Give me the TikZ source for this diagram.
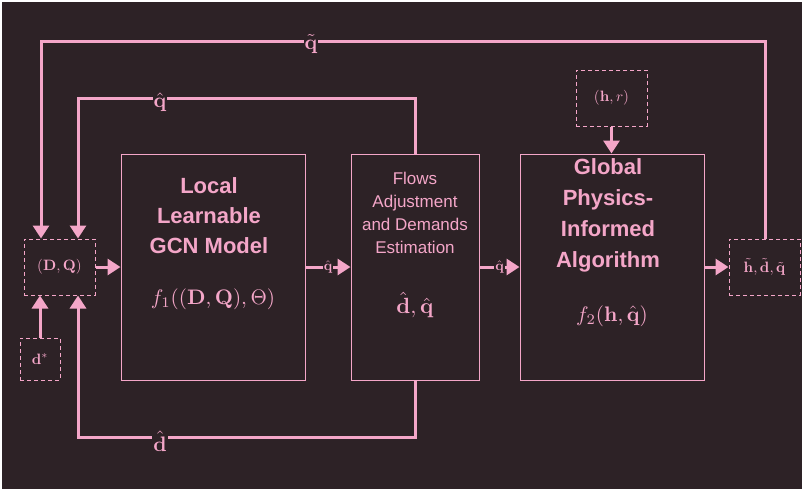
\documentclass[tikz,border=0pt]{standalone}
\usepackage{amsmath}
\usepackage{graphicx}
\usepackage[no-math]{fontspec}
\setmainfont{Liberation Sans}
\usetikzlibrary{arrows.meta}
\definecolor{bg}{HTML}{2D2226}
\definecolor{pk}{HTML}{F4A6C8}
\newcommand{\sm}[2]{\scalebox{#1}{$#2$}}
\begin{document}
\begin{tikzpicture}[x=1pt,y=-1pt,
 box/.style={draw=pk,line width=1pt},
 dbox/.style={draw=pk,line width=1pt,dash pattern=on 4pt off 3pt},
 ar/.style={draw=pk,line width=3pt,-{Triangle[length=13pt,width=16pt]}},
 lab/.style={text=pk,fill=bg,inner sep=1pt},
 txt/.style={text=pk,align=center}]
\fill[white] (0,0) rectangle (804,491);
\fill[bg] (2,2) rectangle (802,489);
\useasboundingbox (0,0) rectangle (804,491);
\node[dbox,minimum width=71pt,minimum height=56pt] (dq) at (59.5,267) {};
\node[txt] at (dq) {\sm{1.5}{(\mathbf{D},\mathbf{Q})}};
\node[dbox,minimum width=40pt,minimum height=42pt] (ds) at (40,359) {};
\node[txt] at (ds) {\sm{1.5}{\mathbf{d}^{*}}};
\node[box,minimum width=184pt,minimum height=226pt] (loc) at (213,267) {};
\node[box,minimum width=128pt,minimum height=226pt] (fl) at (415,267) {};
\node[box,minimum width=184pt,minimum height=226pt] (gl) at (612,267) {};
\node[dbox,minimum width=71pt,minimum height=56pt] (hr) at (611.5,98) {};
\node[txt] at (hr) {\sm{1.5}{(\mathbf{h},r)}};
\node[dbox,minimum width=71pt,minimum height=56pt] (out) at (764.5,267) {};
\node[txt] at (out) {\sm{1.5}{\tilde{\mathbf{h}},\tilde{\mathbf{d}},\tilde{\mathbf{q}}}};
\node[txt,font=\bfseries\fontsize{22}{30}\selectfont] (lt) at (209,216) {Local\\Learnable\\GCN Model};
\node[txt] (lf) at (213,299) {\sm{2.1}{f_1((\mathbf{D},\mathbf{Q}),\Theta)}};
\node[txt,font=\fontsize{17}{23}\selectfont,inner sep=0pt] (ft) at (415,213) {Flows\\Adjustment\\and Demands\\Estimation};
\node[txt] (ff) at (415,305) {\sm{2.2}{\hat{\mathbf{d}},\hat{\mathbf{q}}}};
\node[txt,font=\bfseries\fontsize{22}{31}\selectfont] (gt) at (608,215) {Global\\Physics-\\Informed\\Algorithm};
\node[txt] (gf) at (612,316) {\sm{2.1}{f_2(\mathbf{h},\hat{\mathbf{q}})}};
\coordinate (t1) at (765,41); \coordinate (t2) at (41,41);
\coordinate (m1) at (415,98); \coordinate (m2) at (78,98);
\coordinate (b1) at (415,437); \coordinate (b2) at (78,437);
\draw[ar] (out.north -| t1) -- (t1) -- (t2) -- (dq.north -| t2);
\draw[ar] (fl.north) -- (m1) -- (m2) -- (dq.north -| m2);
\draw[ar] (fl.south) -- (b1) -- (b2) -- (dq.south -| b2);
\draw[ar] (ds.north) -- (dq.south -| ds.north);
\draw[ar] (dq.east) -- (loc.west);
\draw[ar] (loc.east) -- (fl.west) node[midway,lab]{\sm{1.4}{\hat{\mathbf{q}}}};
\draw[ar] (fl.east) -- (gl.west) node[midway,lab]{\sm{1.4}{\hat{\mathbf{q}}}};
\draw[ar] (gl.east) -- (out.west);
\draw[ar] (hr.south) -- (gl.north -| hr.south);
\node[lab] at (311,44) {\sm{2.1}{\tilde{\mathbf{q}}}};
\node[lab] at (160,102) {\sm{2.1}{\hat{\mathbf{q}}}};
\node[lab] at (160,441) {\sm{2.1}{\hat{\mathbf{d}}}};
\end{tikzpicture}
\end{document}
